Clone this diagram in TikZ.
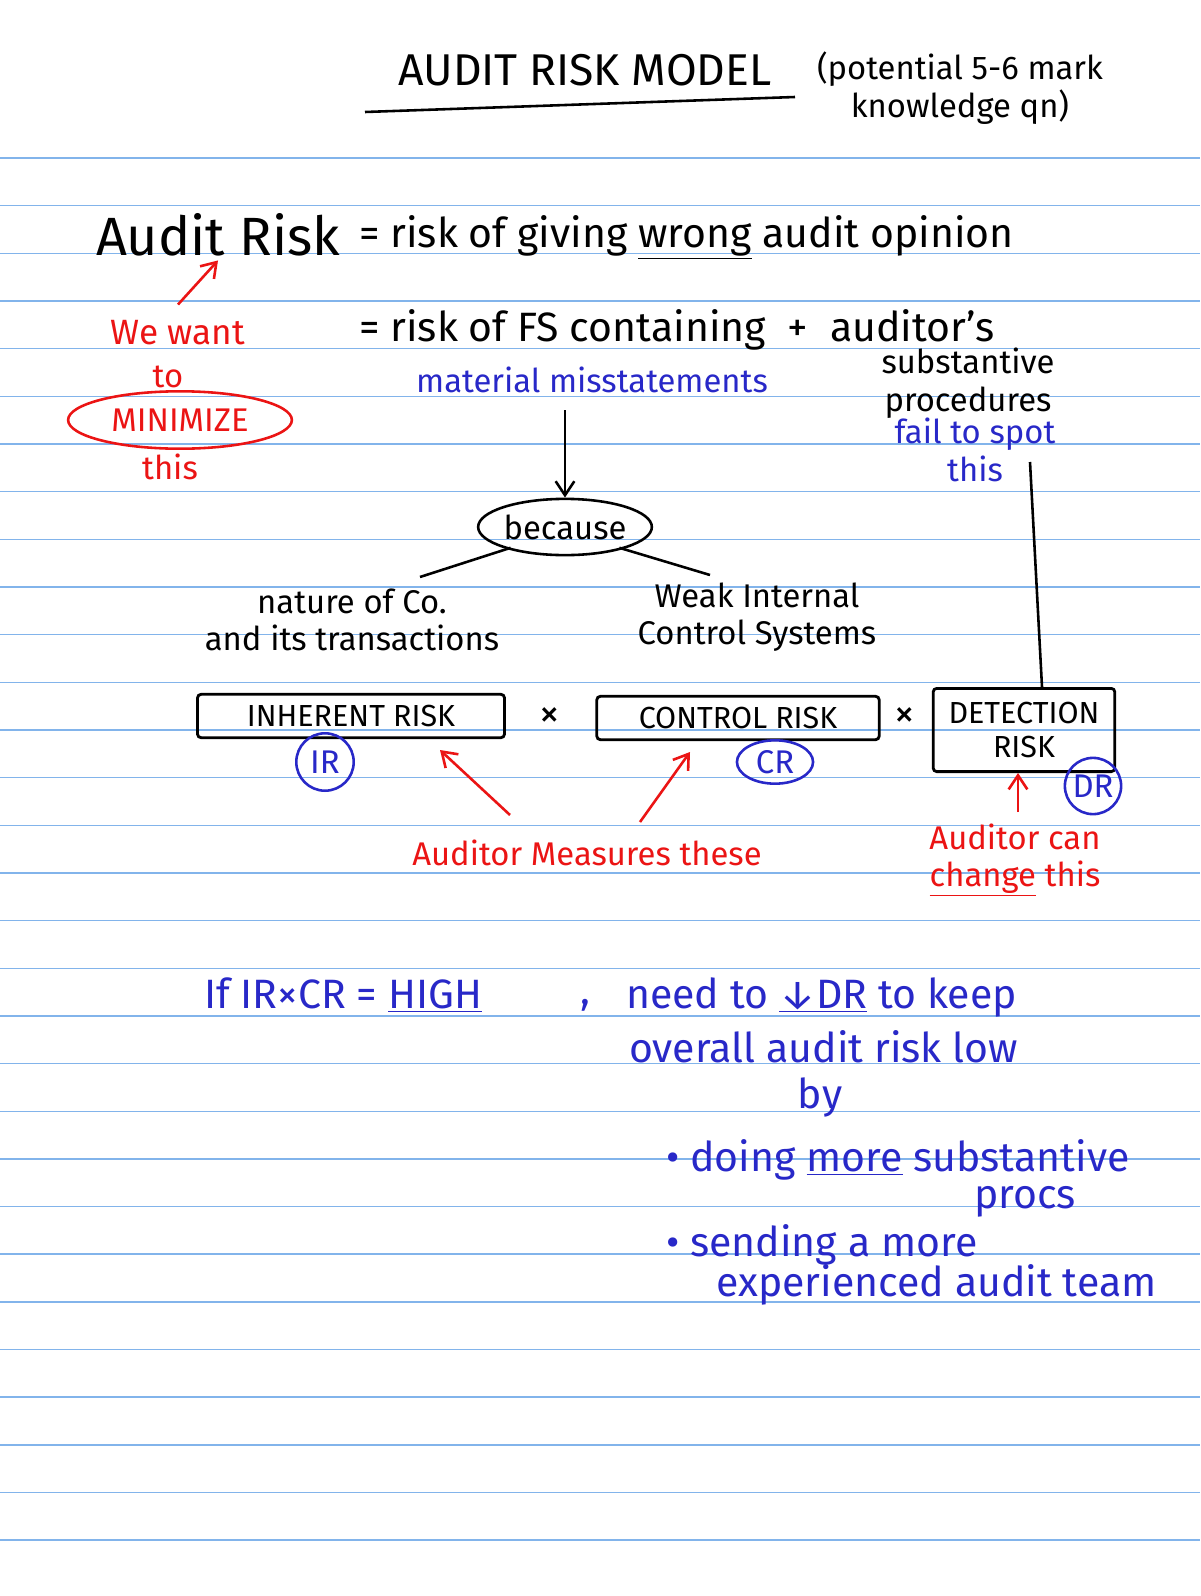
\documentclass[tikz,border=0pt]{standalone}
\usepackage{fontspec}
\setmainfont{Fira Sans}
\usetikzlibrary{shapes.geometric,arrows.meta}
\definecolor{rule}{RGB}{130,180,235}
\definecolor{pen}{RGB}{40,40,200}
\definecolor{red2}{RGB}{235,20,20}
\newcommand{\myul}[1]{\underline{#1}}
\tikzset{
  big/.style={font=\fontsize{46}{50}\selectfont},
  main/.style={font=\fontsize{35}{39}\selectfont},
  sub/.style={font=\fontsize{28}{32}\selectfont},
  box/.style={draw,line width=2.4pt,rounded corners=3pt,inner sep=1pt,font=\fontsize{26}{29}\selectfont},
  ink/.style={line width=2.2pt},
  arr/.style={ink,-{Straight Barb[length=12pt,width=16pt]}}
}
\begin{document}
\begin{tikzpicture}[x=0.03cm,y=-0.03cm]
\useasboundingbox (0,0) rectangle (1200,1596);
\fill[white] (0,0) rectangle (1200,1596);
\foreach \i in {0,...,29} \draw[rule,line width=1.2pt] (0,158+47.66*\i) -- (1200,158+47.66*\i);
% title
\node[font=\fontsize{38}{42}\selectfont] (title) at (585,70) {AUDIT RISK MODEL};
\draw[ink] (365,112) -- (795,97);
\node[sub,align=center] (qn) at (960,88) {(potential 5-6 mark\\ knowledge qn)};
% audit risk line
\node[big] (ar) at (218,235) {Audit Risk};
\node[main,anchor=west] (def1) at (355,237) {= risk of giving \myul{wrong} audit opinion};
\node[sub,red2,font=\fontsize{30}{34}\selectfont] (want) at (178,333) {We want};
\draw[arr,red2] (want.north) ++(0,-12) -- (ar.south);
\node[sub,red2] (to) at (168,377) {to};
\node[ellipse,draw=red2,ink,red2,sub,minimum width=191pt,minimum height=49pt,inner sep=0pt] (min) at (180,420) {MINIMIZE};
\node[sub,red2] (this1) at (170,467) {this};
% second definition
\node[main,anchor=west] (def2) at (355,330) {= risk of FS containing \ +\ \ auditor's};
\node[sub,pen] (mm) at (592,380) {material misstatements};
\node[sub,align=center] (sp) at (968,383) {substantive\\procedures};
\node[sub,pen,align=center] (fail) at (975,450) {fail to spot\\this};
\node[ellipse,draw,ink,sub,minimum width=141pt,minimum height=48pt,inner sep=0pt] (bec) at (565,527) {because};
\draw[arr] (565,410) -- (bec.north);
\node[sub,align=center] (nat) at (352,620) {nature of Co.\\and its transactions};
\node[sub,align=center] (weak) at (757,617) {Weak Internal\\Control Systems};
\draw[ink] (bec.south west) ++(8,0) -- (420,577);
\draw[ink] (bec.south east) ++(-8,0) -- (710,575);
% boxes
\node[box,minimum width=262pt,minimum height=37pt] (ir) at (351,716) {INHERENT RISK};
\node[box,minimum width=241pt,minimum height=37pt] (cr) at (738,718) {CONTROL RISK};
\node[box,align=center,minimum width=155pt,minimum height=71pt] (dr) at (1024,730) {DETECTION\\RISK};
\node[main] (x1) at (550,718) {×};
\node[main] (x2) at (905,718) {×};
\draw[ink] (dr.north) ++(18,0) -- (1030,462);
\node[circle,draw=pen,ink,pen,sub,minimum size=49pt,inner sep=0pt] (irc) at (325,762) {IR};
\node[ellipse,draw=pen,ink,pen,sub,minimum width=65pt,minimum height=37pt,inner sep=0pt] (crc) at (775,762) {CR};
\node[circle,draw=pen,ink,pen,sub,minimum size=48pt,inner sep=0pt] (drc) at (1093,786) {DR};
% red notes
\node[sub,red2] (meas) at (587,853) {Auditor Measures these};
\draw[arr,red2] (510,815) -- (440,750);
\draw[arr,red2] (640,822) -- (690,752);
\node[sub,red2,align=center] (chg) at (1015,860) {Auditor can\\\myul{change} this};
\draw[arr,red2] (1018,812) -- (dr.south -| 1018,0);
% blue conclusion
\node[main,pen,anchor=west] (if) at (200,995) {If IR×CR = \myul{HIGH}};
\node[main,pen] (comma) at (585,1005) {,};
\node[main,pen,anchor=west] (need) at (622,997) {need to \myul{↓DR} to keep};
\node[main,pen,anchor=west] (ov) at (625,1047) {overall audit risk low};
\node[main,pen] (by) at (820,1097) {by};
\node[main,pen,anchor=west] (doing) at (662,1160) {• doing \myul{more} substantive};
\node[main,pen] (procs) at (1025,1202) {procs};
\node[main,pen,anchor=west] (send) at (662,1245) {• sending a more};
\node[main,pen,anchor=west] (exp) at (712,1285) {experienced audit team};
\end{tikzpicture}
\end{document}
